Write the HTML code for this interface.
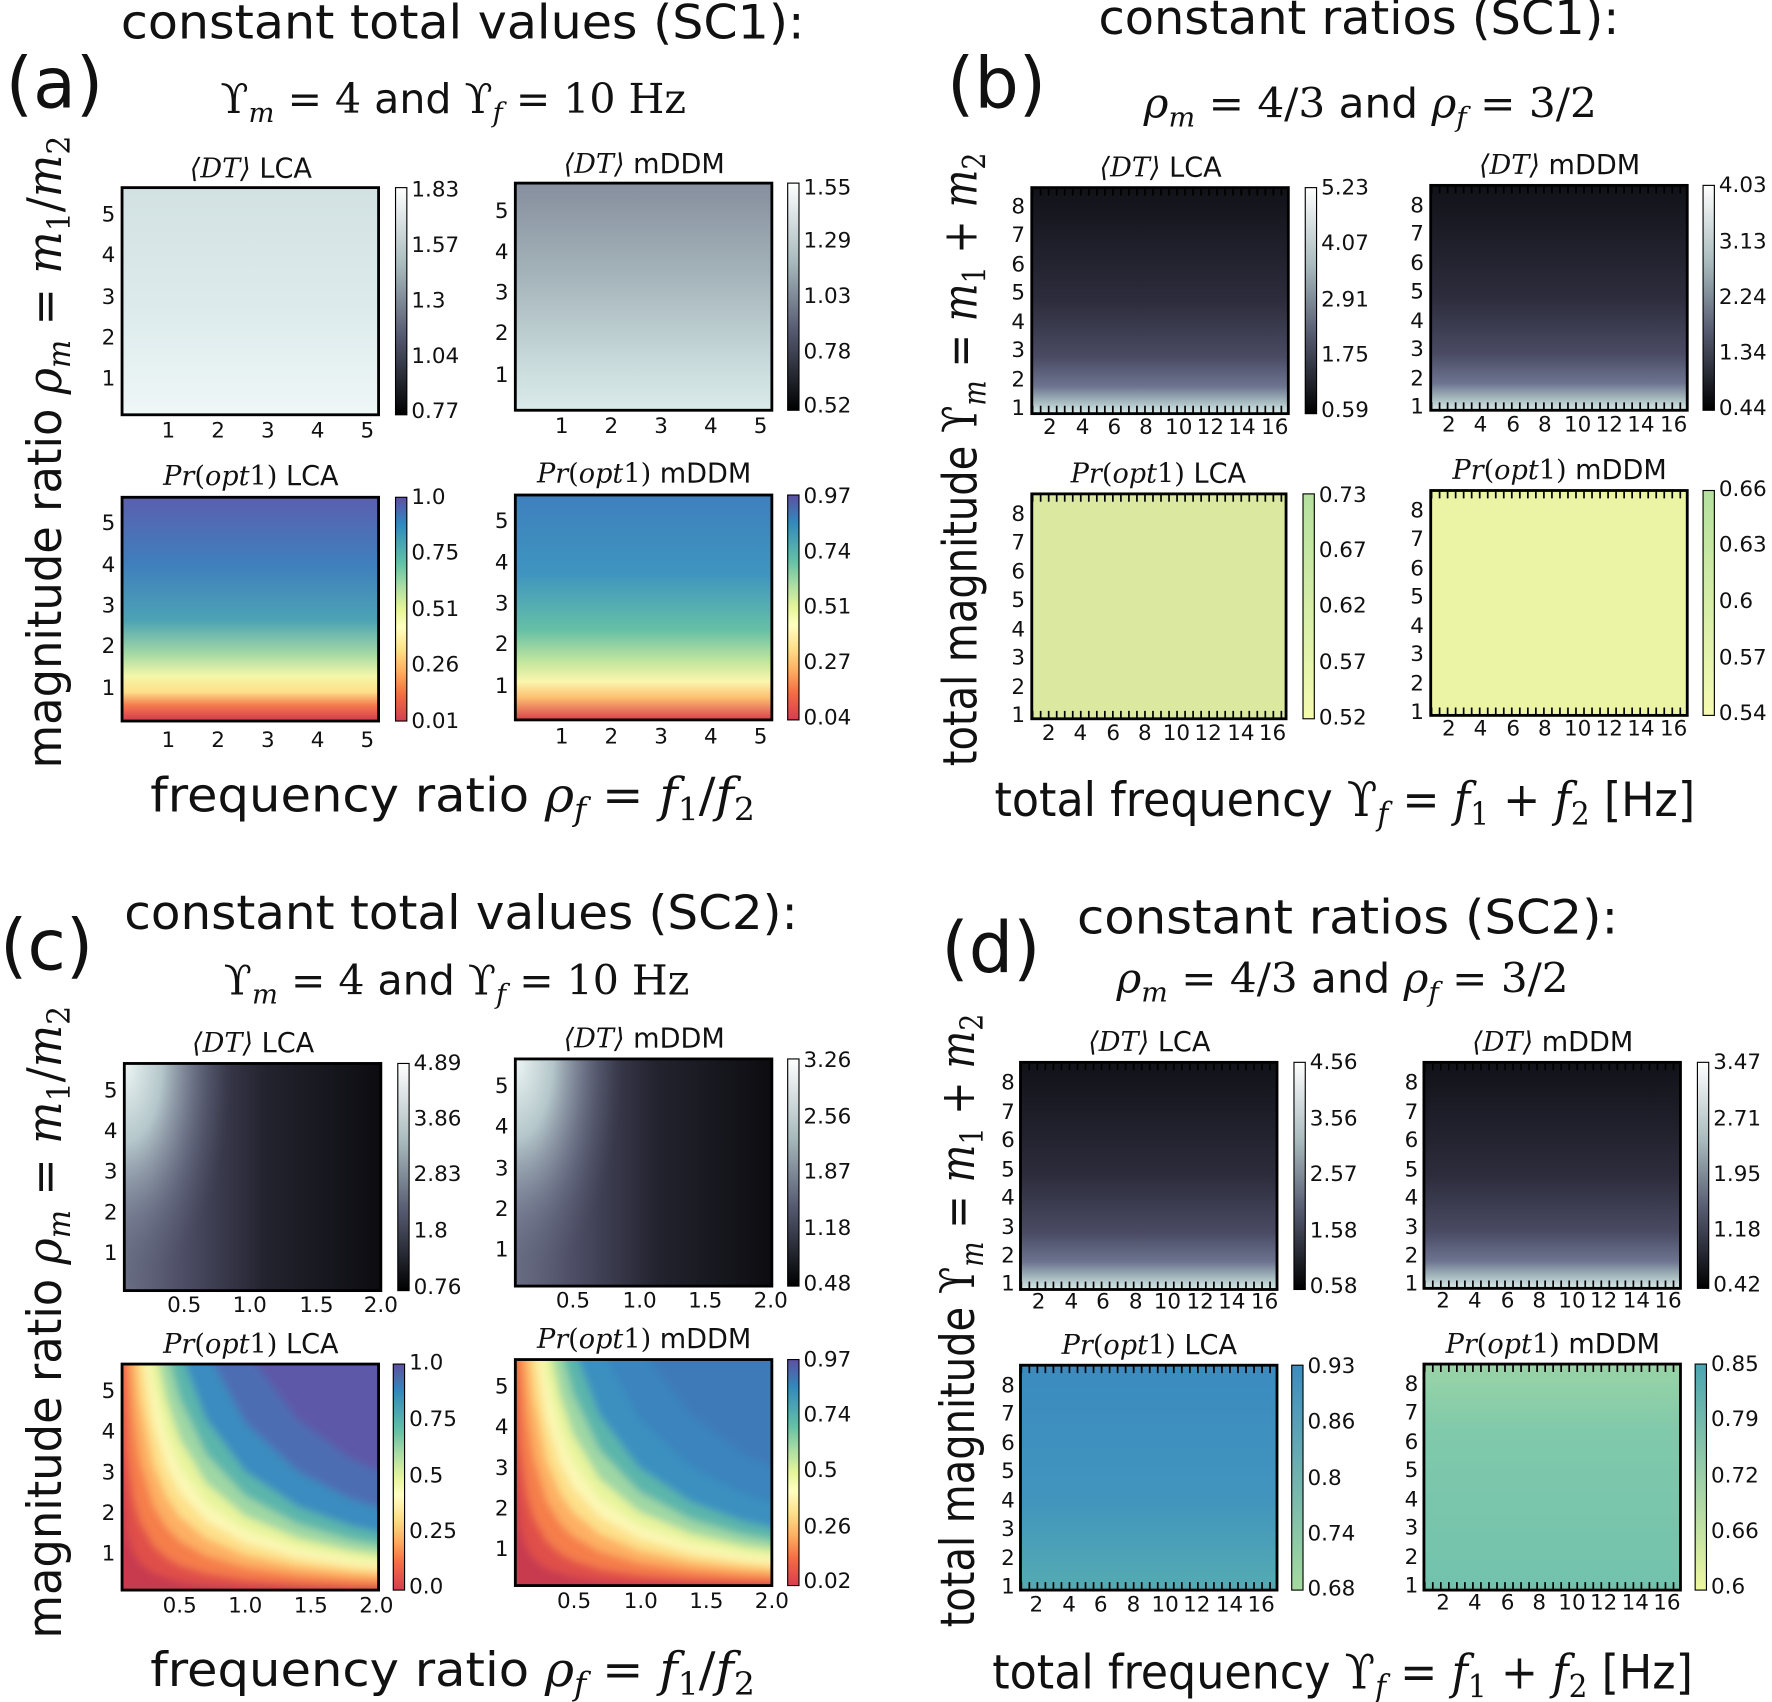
<!DOCTYPE html>
<html><head><meta charset="utf-8"><style>
html,body{margin:0;padding:0;background:#fff;}
svg{display:block}
.t{font-family:"DejaVu Sans","Liberation Sans",sans-serif;fill:#111}
.s{font-family:"DejaVu Serif","Liberation Serif",serif;fill:#111}
.tk{font-family:"DejaVu Sans","Liberation Sans",sans-serif;font-size:19px;fill:#111}
.yl{text-anchor:end}
.xl{text-anchor:middle}
.ttl{font-family:"DejaVu Sans","Liberation Sans",sans-serif;font-size:24px;text-anchor:middle;fill:#111}
.fr{fill:none;stroke:#000;stroke-width:2.5}
.cb{stroke:#000;stroke-width:1}
</style></head><body>
<svg width="1772" height="1702" viewBox="0 0 1568 1506" xmlns="http://www.w3.org/2000/svg">
<defs>
<linearGradient id="bone" x1="0" y1="0" x2="0" y2="1"><stop offset="0" stop-color="#ffffff"/><stop offset="0.35" stop-color="#a7b9bc"/><stop offset="0.65" stop-color="#555a70"/><stop offset="1" stop-color="#000"/></linearGradient>
<linearGradient id="spec" x1="0" y1="0" x2="0" y2="1"><stop offset="0" stop-color="#5e4fa2"/><stop offset="0.12" stop-color="#3288bd"/><stop offset="0.3" stop-color="#66c2a5"/><stop offset="0.4" stop-color="#abdda4"/><stop offset="0.5" stop-color="#e6f598"/><stop offset="0.58" stop-color="#ffffbf"/><stop offset="0.68" stop-color="#fee08b"/><stop offset="0.78" stop-color="#fdae61"/><stop offset="0.88" stop-color="#f46d43"/><stop offset="1" stop-color="#d53e4f"/></linearGradient>
<linearGradient id="specB3" x1="0" y1="0" x2="0" y2="1"><stop offset="0" stop-color="#b5e09f"/><stop offset="1" stop-color="#f5fab0"/></linearGradient>
<linearGradient id="specD3" x1="0" y1="0" x2="0" y2="1"><stop offset="0" stop-color="#3b8cc0"/><stop offset="1" stop-color="#a5da9f"/></linearGradient>
<linearGradient id="specD4" x1="0" y1="0" x2="0" y2="1"><stop offset="0" stop-color="#4aa5b0"/><stop offset="1" stop-color="#eef79e"/></linearGradient>
<linearGradient id="gD3" x1="0" y1="0" x2="0" y2="1"><stop offset="0" stop-color="#3b8bc0"/><stop offset="0.6" stop-color="#4195bd"/><stop offset="1" stop-color="#55abb2"/></linearGradient>
<linearGradient id="gD4" x1="0" y1="0" x2="0" y2="1"><stop offset="0" stop-color="#9ad4a6"/><stop offset="0.3" stop-color="#80c9ab"/><stop offset="1" stop-color="#72c2ad"/></linearGradient>
<linearGradient id="gA1" x1="0" y1="0" x2="0" y2="1"><stop offset="0" stop-color="#d2e1e2"/><stop offset="0.6" stop-color="#dfeced"/><stop offset="1" stop-color="#eff7f7"/></linearGradient>
<linearGradient id="gA2" x1="0" y1="0" x2="0" y2="1"><stop offset="0" stop-color="#868f9e"/><stop offset="0.4" stop-color="#a4b3b9"/><stop offset="0.8" stop-color="#c9dbdc"/><stop offset="1" stop-color="#dbeaea"/></linearGradient>
<linearGradient id="gA3" x1="0" y1="0" x2="0" y2="1"><stop offset="0" stop-color="#5b5fae"/><stop offset="0.3" stop-color="#3f7fbd"/><stop offset="0.55" stop-color="#4ca3b4"/><stop offset="0.7" stop-color="#a4d9a3"/><stop offset="0.8" stop-color="#f4f7a8"/><stop offset="0.87" stop-color="#fde08a"/><stop offset="0.93" stop-color="#f47a4d"/><stop offset="1" stop-color="#d23a4e"/></linearGradient>
<linearGradient id="gA4" x1="0" y1="0" x2="0" y2="1"><stop offset="0" stop-color="#3f7fbd"/><stop offset="0.35" stop-color="#3e95bf"/><stop offset="0.6" stop-color="#66c0a6"/><stop offset="0.75" stop-color="#c8e89e"/><stop offset="0.83" stop-color="#fbf6ae"/><stop offset="0.9" stop-color="#fdc070"/><stop offset="1" stop-color="#d9404c"/></linearGradient>
<linearGradient id="gB1" x1="0" y1="0" x2="0" y2="1"><stop offset="0" stop-color="#111118"/><stop offset="0.5" stop-color="#2c2c3c"/><stop offset="0.75" stop-color="#4a4b63"/><stop offset="0.88" stop-color="#6d7490"/><stop offset="0.95" stop-color="#a8bcc0"/><stop offset="1" stop-color="#d8eaea"/></linearGradient>
<linearGradient id="gH" x1="0" y1="0" x2="1" y2="0"><stop offset="0" stop-color="#6a6e84"/><stop offset="0.25" stop-color="#4a4b62"/><stop offset="0.55" stop-color="#23232f"/><stop offset="1" stop-color="#0c0c10"/></linearGradient>
<radialGradient id="gL" cx="0" cy="0" r="1" gradientTransform="scale(0.42,1.0)"><stop offset="0" stop-color="#eef6f4"/><stop offset="0.35" stop-color="#b9cccf" stop-opacity="0.95"/><stop offset="0.7" stop-color="#7c8499" stop-opacity="0.5"/><stop offset="1" stop-color="#555a70" stop-opacity="0"/></radialGradient>
<clipPath id="cC3"><rect x="108" y="1207" width="227" height="200"/></clipPath>
<clipPath id="cC4"><rect x="456" y="1203" width="227" height="200"/></clipPath>
<filter id="bl" filterUnits="userSpaceOnUse" x="0" y="1100" width="800" height="400"><feGaussianBlur stdDeviation="3.5"/></filter>
<g id="inner">
<path fill="#5bb5ab" d="M-0.2,-0.3 L-0.2,7 L0.5,7 L0.5,6 L0.7,4.29 L1,3 L1.4,2.14 L1.8,1.67 L2.3,1.30 L2.3,-0.3 Z"/>
<path fill="#9fd7a4" d="M-0.2,-0.3 L-0.2,7 L0.4,7 L0.4,6 L0.5,4.8 L0.7,3.43 L1,2.4 L1.4,1.71 L1.8,1.33 L2.3,1.04 L2.3,-0.3 Z"/>
<path fill="#e8f49c" d="M-0.2,-0.3 L-0.2,7 L0.317,7 L0.317,6 L0.4,4.75 L0.5,3.8 L0.7,2.71 L1,1.9 L1.4,1.36 L1.8,1.06 L2.3,0.83 L2.3,-0.3 Z"/>
<path fill="#fbf8b5" d="M-0.2,-0.3 L-0.2,7 L0.258,7 L0.258,6 L0.3,5.17 L0.4,3.88 L0.5,3.1 L0.7,2.21 L1,1.55 L1.4,1.11 L1.8,0.86 L2.3,0.67 L2.3,-0.3 Z"/>
<path fill="#fde08a" d="M-0.2,-0.3 L-0.2,7 L0.208,7 L0.208,6 L0.3,4.17 L0.4,3.13 L0.5,2.5 L0.7,1.79 L1,1.25 L1.4,0.89 L1.8,0.69 L2.3,0.54 L2.3,-0.3 Z"/>
<path fill="#fdb063" d="M-0.2,-0.3 L-0.2,7 L0.158,7 L0.158,6 L0.2,4.75 L0.3,3.17 L0.4,2.38 L0.5,1.9 L0.7,1.36 L1,0.95 L1.4,0.68 L1.8,0.53 L2.3,0.41 L2.3,-0.3 Z"/>
<path fill="#f57e4b" d="M-0.2,-0.3 L-0.2,7 L0.108,7 L0.108,6 L0.15,4.33 L0.2,3.25 L0.3,2.17 L0.4,1.63 L0.5,1.3 L0.7,0.93 L1,0.65 L1.4,0.46 L1.8,0.36 L2.3,0.28 L2.3,-0.3 Z"/>
<path fill="#e0504a" d="M-0.2,-0.3 L-0.2,7 L0.058,7 L0.058,6 L0.1,3.5 L0.15,2.33 L0.2,1.75 L0.3,1.17 L0.4,0.88 L0.5,0.7 L0.7,0.5 L1,0.35 L1.4,0.25 L1.8,0.19 L2.3,0.15 L2.3,-0.3 Z"/>
<path fill="#c83a50" d="M-0.2,-0.3 L-0.2,7 L0.025,7 L0.025,6 L0.05,3 L0.1,1.5 L0.15,1 L0.2,0.75 L0.3,0.5 L0.5,0.3 L0.7,0.21 L1,0.15 L1.4,0.11 L2.3,0.065 L2.3,-0.3 Z"/>
</g>
</defs>

<!-- Headers -->
<text class="t" x="107" y="34" font-size="42" textLength="605" lengthAdjust="spacingAndGlyphs">constant total values (SC1):</text>
<text class="t" x="5" y="95" font-size="62">(a)</text>
<text x="195" y="100" font-size="36" textLength="412" lengthAdjust="spacingAndGlyphs"><tspan class="s">ϒ</tspan><tspan class="s" font-style="italic" font-size="24" dy="8">m</tspan><tspan class="s" dy="-8"> = 4 </tspan><tspan class="t">and </tspan><tspan class="s">ϒ</tspan><tspan class="s" font-style="italic" font-size="24" dy="8">f</tspan><tspan class="s" dy="-8"> = 10 Hz</tspan></text>

<text class="t" x="972" y="30" font-size="42" textLength="461" lengthAdjust="spacingAndGlyphs">constant ratios (SC1):</text>
<text class="t" x="838" y="95" font-size="62">(b)</text>
<text x="1012" y="104" font-size="36" textLength="401" lengthAdjust="spacingAndGlyphs"><tspan class="s" font-style="italic">ρ</tspan><tspan class="s" font-style="italic" font-size="24" dy="8">m</tspan><tspan class="s" dy="-8"> = 4/3 </tspan><tspan class="t">and </tspan><tspan class="s" font-style="italic">ρ</tspan><tspan class="s" font-style="italic" font-size="24" dy="8">f</tspan><tspan class="s" dy="-8"> = 3/2</tspan></text>

<text class="t" x="110" y="822" font-size="42" textLength="596" lengthAdjust="spacingAndGlyphs">constant total values (SC2):</text>
<text class="t" x="0" y="858" font-size="62">(c)</text>
<text x="198" y="880" font-size="36" textLength="412" lengthAdjust="spacingAndGlyphs"><tspan class="s">ϒ</tspan><tspan class="s" font-style="italic" font-size="24" dy="8">m</tspan><tspan class="s" dy="-8"> = 4 </tspan><tspan class="t">and </tspan><tspan class="s">ϒ</tspan><tspan class="s" font-style="italic" font-size="24" dy="8">f</tspan><tspan class="s" dy="-8"> = 10 Hz</tspan></text>

<text class="t" x="953" y="826" font-size="42" textLength="479" lengthAdjust="spacingAndGlyphs">constant ratios (SC2):</text>
<text class="t" x="833" y="860" font-size="62">(d)</text>
<text x="988" y="878" font-size="36" textLength="400" lengthAdjust="spacingAndGlyphs"><tspan class="s" font-style="italic">ρ</tspan><tspan class="s" font-style="italic" font-size="24" dy="8">m</tspan><tspan class="s" dy="-8"> = 4/3 </tspan><tspan class="t">and </tspan><tspan class="s" font-style="italic">ρ</tspan><tspan class="s" font-style="italic" font-size="24" dy="8">f</tspan><tspan class="s" dy="-8"> = 3/2</tspan></text>

<!-- Axis labels -->
<text transform="translate(54,680) rotate(-90)" font-size="42" textLength="560" lengthAdjust="spacingAndGlyphs"><tspan class="t">magnitude ratio </tspan><tspan class="s" font-style="italic">ρ</tspan><tspan class="s" font-style="italic" font-size="28" dy="8">m</tspan><tspan class="s" dy="-8"> = </tspan><tspan class="s" font-style="italic">m</tspan><tspan class="s" font-size="28" dy="8">1</tspan><tspan class="s" dy="-8">/</tspan><tspan class="s" font-style="italic">m</tspan><tspan class="s" font-size="28" dy="8">2</tspan></text>
<text x="133" y="718" font-size="42" textLength="535" lengthAdjust="spacingAndGlyphs"><tspan class="t">frequency ratio </tspan><tspan class="s" font-style="italic">ρ</tspan><tspan class="s" font-style="italic" font-size="28" dy="8">f</tspan><tspan class="s" dy="-8"> = </tspan><tspan class="s" font-style="italic">f</tspan><tspan class="s" font-size="28" dy="8">1</tspan><tspan class="s" dy="-8">/</tspan><tspan class="s" font-style="italic">f</tspan><tspan class="s" font-size="28" dy="8">2</tspan></text>
<text transform="translate(864,678) rotate(-90)" font-size="42" textLength="543" lengthAdjust="spacingAndGlyphs"><tspan class="t">total magnitude </tspan><tspan class="s">ϒ</tspan><tspan class="s" font-style="italic" font-size="28" dy="8">m</tspan><tspan class="s" dy="-8"> = </tspan><tspan class="s" font-style="italic">m</tspan><tspan class="s" font-size="28" dy="8">1</tspan><tspan class="s" dy="-8"> + </tspan><tspan class="s" font-style="italic">m</tspan><tspan class="s" font-size="28" dy="8">2</tspan></text>
<text x="880" y="722" font-size="42" textLength="620" lengthAdjust="spacingAndGlyphs"><tspan class="t">total frequency </tspan><tspan class="s">ϒ</tspan><tspan class="s" font-style="italic" font-size="28" dy="8">f</tspan><tspan class="s" dy="-8"> = </tspan><tspan class="s" font-style="italic">f</tspan><tspan class="s" font-size="28" dy="8">1</tspan><tspan class="s" dy="-8"> + </tspan><tspan class="s" font-style="italic">f</tspan><tspan class="s" font-size="28" dy="8">2</tspan><tspan class="t" dy="-8">  [Hz]</tspan></text>

<text transform="translate(54,1450) rotate(-90)" font-size="42" textLength="560" lengthAdjust="spacingAndGlyphs"><tspan class="t">magnitude ratio </tspan><tspan class="s" font-style="italic">ρ</tspan><tspan class="s" font-style="italic" font-size="28" dy="8">m</tspan><tspan class="s" dy="-8"> = </tspan><tspan class="s" font-style="italic">m</tspan><tspan class="s" font-size="28" dy="8">1</tspan><tspan class="s" dy="-8">/</tspan><tspan class="s" font-style="italic">m</tspan><tspan class="s" font-size="28" dy="8">2</tspan></text>
<text x="133" y="1492" font-size="42" textLength="535" lengthAdjust="spacingAndGlyphs"><tspan class="t">frequency ratio </tspan><tspan class="s" font-style="italic">ρ</tspan><tspan class="s" font-style="italic" font-size="28" dy="8">f</tspan><tspan class="s" dy="-8"> = </tspan><tspan class="s" font-style="italic">f</tspan><tspan class="s" font-size="28" dy="8">1</tspan><tspan class="s" dy="-8">/</tspan><tspan class="s" font-style="italic">f</tspan><tspan class="s" font-size="28" dy="8">2</tspan></text>
<text transform="translate(862,1440) rotate(-90)" font-size="42" textLength="543" lengthAdjust="spacingAndGlyphs"><tspan class="t">total magnitude </tspan><tspan class="s">ϒ</tspan><tspan class="s" font-style="italic" font-size="28" dy="8">m</tspan><tspan class="s" dy="-8"> = </tspan><tspan class="s" font-style="italic">m</tspan><tspan class="s" font-size="28" dy="8">1</tspan><tspan class="s" dy="-8"> + </tspan><tspan class="s" font-style="italic">m</tspan><tspan class="s" font-size="28" dy="8">2</tspan></text>
<text x="878" y="1494" font-size="42" textLength="620" lengthAdjust="spacingAndGlyphs"><tspan class="t">total frequency </tspan><tspan class="s">ϒ</tspan><tspan class="s" font-style="italic" font-size="28" dy="8">f</tspan><tspan class="s" dy="-8"> = </tspan><tspan class="s" font-style="italic">f</tspan><tspan class="s" font-size="28" dy="8">1</tspan><tspan class="s" dy="-8"> + </tspan><tspan class="s" font-style="italic">f</tspan><tspan class="s" font-size="28" dy="8">2</tspan><tspan class="t" dy="-8">  [Hz]</tspan></text>

<!-- ===== A1 ===== -->
<text class="ttl" x="222" y="157"><tspan class="s" font-style="italic">⟨DT⟩</tspan> LCA</text>
<rect x="108" y="166" width="227" height="201" fill="url(#gA1)"/><rect class="fr" x="108" y="166" width="227" height="201"/>
<g class="tk yl"><text x="102" y="196">5</text><text x="102" y="232">4</text><text x="102" y="269">3</text><text x="102" y="305">2</text><text x="102" y="341">1</text></g>
<g class="tk xl"><text x="149" y="387">1</text><text x="193" y="387">2</text><text x="237" y="387">3</text><text x="281" y="387">4</text><text x="325" y="387">5</text></g>
<rect class="cb" x="350" y="166" width="10" height="201" fill="url(#bone)"/>
<g class="tk"><text x="364" y="174">1.83</text><text x="364" y="223">1.57</text><text x="364" y="272">1.3</text><text x="364" y="321">1.04</text><text x="364" y="370">0.77</text></g>

<!-- A2 -->
<text class="ttl" x="570" y="153"><tspan class="s" font-style="italic">⟨DT⟩</tspan> mDDM</text>
<rect x="456" y="162" width="227" height="201" fill="url(#gA2)"/><rect class="fr" x="456" y="162" width="227" height="201"/>
<g class="tk yl"><text x="450" y="193">5</text><text x="450" y="229">4</text><text x="450" y="265">3</text><text x="450" y="301">2</text><text x="450" y="338">1</text></g>
<g class="tk xl"><text x="497" y="383">1</text><text x="541" y="383">2</text><text x="585" y="383">3</text><text x="629" y="383">4</text><text x="673" y="383">5</text></g>
<rect class="cb" x="697" y="162" width="10" height="201" fill="url(#bone)"/>
<g class="tk"><text x="711" y="172">1.55</text><text x="711" y="219">1.29</text><text x="711" y="268">1.03</text><text x="711" y="317">0.78</text><text x="711" y="365">0.52</text></g>

<!-- A3 -->
<text class="ttl" x="222" y="429"><tspan class="s" font-style="italic">Pr</tspan><tspan class="s">(</tspan><tspan class="s" font-style="italic">opt</tspan><tspan class="s">1)</tspan> LCA</text>
<rect x="108" y="440" width="227" height="198" fill="url(#gA3)"/><rect class="fr" x="108" y="440" width="227" height="198"/>
<g class="tk yl"><text x="102" y="469">5</text><text x="102" y="506">4</text><text x="102" y="542">3</text><text x="102" y="578">2</text><text x="102" y="615">1</text></g>
<g class="tk xl"><text x="149" y="661">1</text><text x="193" y="661">2</text><text x="237" y="661">3</text><text x="281" y="661">4</text><text x="325" y="661">5</text></g>
<rect class="cb" x="350" y="440" width="10" height="198" fill="url(#spec)"/>
<g class="tk"><text x="364" y="446">1.0</text><text x="364" y="495">0.75</text><text x="364" y="545">0.51</text><text x="364" y="594">0.26</text><text x="364" y="644">0.01</text></g>

<!-- A4 -->
<text class="ttl" x="570" y="427"><tspan class="s" font-style="italic">Pr</tspan><tspan class="s">(</tspan><tspan class="s" font-style="italic">opt</tspan><tspan class="s">1)</tspan> mDDM</text>
<rect x="456" y="438" width="227" height="199" fill="url(#gA4)"/><rect class="fr" x="456" y="438" width="227" height="199"/>
<g class="tk yl"><text x="450" y="467">5</text><text x="450" y="504">4</text><text x="450" y="540">3</text><text x="450" y="576">2</text><text x="450" y="613">1</text></g>
<g class="tk xl"><text x="497" y="658">1</text><text x="541" y="658">2</text><text x="585" y="658">3</text><text x="629" y="658">4</text><text x="673" y="658">5</text></g>
<rect class="cb" x="697" y="438" width="10" height="199" fill="url(#spec)"/>
<g class="tk"><text x="711" y="445">0.97</text><text x="711" y="494">0.74</text><text x="711" y="543">0.51</text><text x="711" y="592">0.27</text><text x="711" y="641">0.04</text></g>

<!-- ===== B1 ===== -->
<text class="ttl" x="1027" y="156"><tspan class="s" font-style="italic">⟨DT⟩</tspan> LCA</text>
<rect x="913" y="166" width="227" height="200" fill="url(#gB1)"/><rect class="fr" x="913" y="166" width="227" height="200"/>
<line x1="913" y1="362" x2="1140" y2="362" stroke="#000" stroke-width="6" stroke-dasharray="1.5 5.6"/>
<line x1="913" y1="170" x2="1140" y2="170" stroke="#000" stroke-width="6" stroke-dasharray="1.5 5.6"/>
<g class="tk yl" font-size="17"><text x="907" y="189">8</text><text x="907" y="214">7</text><text x="907" y="240">6</text><text x="907" y="265">5</text><text x="907" y="291">4</text><text x="907" y="316">3</text><text x="907" y="342">2</text><text x="907" y="367">1</text></g>
<g class="tk xl" font-size="17"><text x="929" y="384">2</text><text x="958" y="384">4</text><text x="986" y="384">6</text><text x="1014" y="384">8</text><text x="1043" y="384">10</text><text x="1071" y="384">12</text><text x="1099" y="384">14</text><text x="1128" y="384">16</text></g>
<rect class="cb" x="1155" y="166" width="10" height="200" fill="url(#bone)"/>
<g class="tk"><text x="1169" y="172">5.23</text><text x="1169" y="221">4.07</text><text x="1169" y="271">2.91</text><text x="1169" y="320">1.75</text><text x="1169" y="369">0.59</text></g>

<!-- B2 -->
<text class="ttl" x="1380" y="154"><tspan class="s" font-style="italic">⟨DT⟩</tspan> mDDM</text>
<rect x="1266" y="164" width="227" height="199" fill="url(#gB1)"/><rect class="fr" x="1266" y="164" width="227" height="199"/>
<line x1="1266" y1="359" x2="1493" y2="359" stroke="#000" stroke-width="6" stroke-dasharray="1.5 5.6"/>
<line x1="1266" y1="168" x2="1493" y2="168" stroke="#000" stroke-width="6" stroke-dasharray="1.5 5.6"/>
<g class="tk yl" font-size="17"><text x="1260" y="188">8</text><text x="1260" y="213">7</text><text x="1260" y="239">6</text><text x="1260" y="264">5</text><text x="1260" y="290">4</text><text x="1260" y="315">3</text><text x="1260" y="341">2</text><text x="1260" y="366">1</text></g>
<g class="tk xl" font-size="17"><text x="1282" y="382">2</text><text x="1310" y="382">4</text><text x="1339" y="382">6</text><text x="1367" y="382">8</text><text x="1396" y="382">10</text><text x="1424" y="382">12</text><text x="1452" y="382">14</text><text x="1481" y="382">16</text></g>
<rect class="cb" x="1507" y="164" width="10" height="199" fill="url(#bone)"/>
<g class="tk"><text x="1521" y="170">4.03</text><text x="1521" y="220">3.13</text><text x="1521" y="269">2.24</text><text x="1521" y="318">1.34</text><text x="1521" y="367">0.44</text></g>

<!-- B3 -->
<text class="ttl" x="1025" y="427"><tspan class="s" font-style="italic">Pr</tspan><tspan class="s">(</tspan><tspan class="s" font-style="italic">opt</tspan><tspan class="s">1)</tspan> LCA</text>
<rect x="913" y="437" width="225" height="199" fill="#dbe9a0"/><rect class="fr" x="913" y="437" width="225" height="199"/>
<line x1="913" y1="632" x2="1138" y2="632" stroke="#000" stroke-width="6" stroke-dasharray="1.5 5.6"/>
<line x1="913" y1="441" x2="1138" y2="441" stroke="#000" stroke-width="6" stroke-dasharray="1.5 5.6"/>
<g class="tk yl" font-size="17"><text x="907" y="461">8</text><text x="907" y="486">7</text><text x="907" y="512">6</text><text x="907" y="537">5</text><text x="907" y="563">4</text><text x="907" y="588">3</text><text x="907" y="614">2</text><text x="907" y="639">1</text></g>
<g class="tk xl" font-size="17"><text x="928" y="655">2</text><text x="956" y="655">4</text><text x="985" y="655">6</text><text x="1013" y="655">8</text><text x="1041" y="655">10</text><text x="1069" y="655">12</text><text x="1098" y="655">14</text><text x="1126" y="655">16</text></g>
<rect class="cb" x="1153" y="437" width="10" height="199" fill="url(#specB3)"/>
<g class="tk"><text x="1167" y="444">0.73</text><text x="1167" y="493">0.67</text><text x="1167" y="542">0.62</text><text x="1167" y="592">0.57</text><text x="1167" y="641">0.52</text></g>

<!-- B4 -->
<text class="ttl" x="1380" y="424"><tspan class="s" font-style="italic">Pr</tspan><tspan class="s">(</tspan><tspan class="s" font-style="italic">opt</tspan><tspan class="s">1)</tspan> mDDM</text>
<rect x="1266" y="434" width="227" height="199" fill="#ebf3a4"/><rect class="fr" x="1266" y="434" width="227" height="199"/>
<line x1="1266" y1="629" x2="1493" y2="629" stroke="#000" stroke-width="6" stroke-dasharray="1.5 5.6"/>
<line x1="1266" y1="438" x2="1493" y2="438" stroke="#000" stroke-width="6" stroke-dasharray="1.5 5.6"/>
<g class="tk yl" font-size="17"><text x="1260" y="458">8</text><text x="1260" y="483">7</text><text x="1260" y="509">6</text><text x="1260" y="534">5</text><text x="1260" y="560">4</text><text x="1260" y="585">3</text><text x="1260" y="611">2</text><text x="1260" y="636">1</text></g>
<g class="tk xl" font-size="17"><text x="1282" y="651">2</text><text x="1310" y="651">4</text><text x="1339" y="651">6</text><text x="1367" y="651">8</text><text x="1396" y="651">10</text><text x="1424" y="651">12</text><text x="1452" y="651">14</text><text x="1481" y="651">16</text></g>
<rect class="cb" x="1507" y="434" width="10" height="199" fill="url(#specB3)"/>
<g class="tk"><text x="1521" y="439">0.66</text><text x="1521" y="488">0.63</text><text x="1521" y="538">0.6</text><text x="1521" y="588">0.57</text><text x="1521" y="637">0.54</text></g>

<!-- ===== C1 ===== -->
<text class="ttl" x="224" y="931"><tspan class="s" font-style="italic">⟨DT⟩</tspan> LCA</text>
<rect x="110" y="941" width="227" height="201" fill="url(#gH)"/><rect x="110" y="941" width="227" height="201" fill="url(#gL)"/><rect class="fr" x="110" y="941" width="227" height="201"/>
<g class="tk yl"><text x="104" y="971">5</text><text x="104" y="1007">4</text><text x="104" y="1043">3</text><text x="104" y="1079">2</text><text x="104" y="1115">1</text></g>
<g class="tk xl"><text x="163" y="1161">0.5</text><text x="221" y="1161">1.0</text><text x="280" y="1161">1.5</text><text x="337" y="1161">2.0</text></g>
<rect class="cb" x="352" y="941" width="10" height="201" fill="url(#bone)"/>
<g class="tk"><text x="366" y="947">4.89</text><text x="366" y="996">3.86</text><text x="366" y="1045">2.83</text><text x="366" y="1095">1.8</text><text x="366" y="1145">0.76</text></g>

<!-- C2 -->
<text class="ttl" x="570" y="927"><tspan class="s" font-style="italic">⟨DT⟩</tspan> mDDM</text>
<rect x="456" y="937" width="227" height="201" fill="url(#gH)"/><rect x="456" y="937" width="227" height="201" fill="url(#gL)"/><rect class="fr" x="456" y="937" width="227" height="201"/>
<g class="tk yl"><text x="450" y="967">5</text><text x="450" y="1003">4</text><text x="450" y="1040">3</text><text x="450" y="1076">2</text><text x="450" y="1112">1</text></g>
<g class="tk xl"><text x="507" y="1157">0.5</text><text x="566" y="1157">1.0</text><text x="624" y="1157">1.5</text><text x="682" y="1157">2.0</text></g>
<rect class="cb" x="697" y="937" width="10" height="201" fill="url(#bone)"/>
<g class="tk"><text x="711" y="944">3.26</text><text x="711" y="994">2.56</text><text x="711" y="1043">1.87</text><text x="711" y="1093">1.18</text><text x="711" y="1142">0.48</text></g>

<!-- C3 -->
<text class="ttl" x="222" y="1197"><tspan class="s" font-style="italic">Pr</tspan><tspan class="s">(</tspan><tspan class="s" font-style="italic">opt</tspan><tspan class="s">1)</tspan> LCA</text>
<g clip-path="url(#cC3)">
<rect x="100" y="1200" width="240" height="215" fill="#5e58a8"/>
<g filter="url(#bl)"><g transform="matrix(116,0,0,-36,101,1410)">
<path fill="#4d6db3" d="M-0.2,-0.3 L-0.2,7 L1,7 L1,6 L1.4,4.29 L1.8,3.33 L2.3,2.61 L2.3,-0.3 Z"/>
<path fill="#3b8cc0" d="M-0.2,-0.3 L-0.2,7 L0.7,7 L0.7,6 L1,4.2 L1.4,3 L1.8,2.33 L2.3,1.83 L2.3,-0.3 Z"/>
<use href="#inner"/>
</g></g></g>
<rect class="fr" x="108" y="1207" width="227" height="200"/>
<g class="tk yl"><text x="102" y="1237">5</text><text x="102" y="1273">4</text><text x="102" y="1309">3</text><text x="102" y="1345">2</text><text x="102" y="1381">1</text></g>
<g class="tk xl"><text x="159" y="1427">0.5</text><text x="217" y="1427">1.0</text><text x="275" y="1427">1.5</text><text x="333" y="1427">2.0</text></g>
<rect class="cb" x="348" y="1207" width="10" height="200" fill="url(#spec)"/>
<g class="tk"><text x="362" y="1212">1.0</text><text x="362" y="1262">0.75</text><text x="362" y="1312">0.5</text><text x="362" y="1361">0.25</text><text x="362" y="1410">0.0</text></g>

<!-- C4 -->
<text class="ttl" x="570" y="1193"><tspan class="s" font-style="italic">Pr</tspan><tspan class="s">(</tspan><tspan class="s" font-style="italic">opt</tspan><tspan class="s">1)</tspan> mDDM</text>
<g clip-path="url(#cC4)">
<rect x="450" y="1195" width="240" height="215" fill="#3f7ab8"/>
<g filter="url(#bl)"><g transform="matrix(116,0,0,-36,449,1406)">
<path fill="#3a84bd" d="M-0.2,-0.3 L-0.2,7 L1,7 L1,6 L1.4,4.29 L1.8,3.33 L2.3,2.61 L2.3,-0.3 Z"/>
<path fill="#3b90c0" d="M-0.2,-0.3 L-0.2,7 L0.7,7 L0.7,6 L1,4.2 L1.4,3 L1.8,2.33 L2.3,1.83 L2.3,-0.3 Z"/>
<use href="#inner"/>
</g></g></g>
<rect class="fr" x="456" y="1203" width="227" height="200"/>
<g class="tk yl"><text x="450" y="1233">5</text><text x="450" y="1269">4</text><text x="450" y="1305">3</text><text x="450" y="1341">2</text><text x="450" y="1377">1</text></g>
<g class="tk xl"><text x="508" y="1423">0.5</text><text x="567" y="1423">1.0</text><text x="625" y="1423">1.5</text><text x="683" y="1423">2.0</text></g>
<rect class="cb" x="697" y="1203" width="10" height="200" fill="url(#spec)"/>
<g class="tk"><text x="711" y="1209">0.97</text><text x="711" y="1258">0.74</text><text x="711" y="1307">0.5</text><text x="711" y="1357">0.26</text><text x="711" y="1405">0.02</text></g>

<!-- ===== D1 ===== -->
<text class="ttl" x="1017" y="930"><tspan class="s" font-style="italic">⟨DT⟩</tspan> LCA</text>
<rect x="903" y="940" width="227" height="201" fill="url(#gB1)"/><rect class="fr" x="903" y="940" width="227" height="201"/>
<line x1="903" y1="1137" x2="1130" y2="1137" stroke="#000" stroke-width="6" stroke-dasharray="1.5 5.6"/>
<line x1="903" y1="944" x2="1130" y2="944" stroke="#000" stroke-width="6" stroke-dasharray="1.5 5.6"/>
<g class="tk yl" font-size="17"><text x="898" y="964">8</text><text x="898" y="990">7</text><text x="898" y="1015">6</text><text x="898" y="1041">5</text><text x="898" y="1066">4</text><text x="898" y="1092">3</text><text x="898" y="1117">2</text><text x="898" y="1142">1</text></g>
<g class="tk xl" font-size="17"><text x="919" y="1158">2</text><text x="948" y="1158">4</text><text x="976" y="1158">6</text><text x="1005" y="1158">8</text><text x="1033" y="1158">10</text><text x="1062" y="1158">12</text><text x="1090" y="1158">14</text><text x="1119" y="1158">16</text></g>
<rect class="cb" x="1145" y="940" width="10" height="201" fill="url(#bone)"/>
<g class="tk"><text x="1159" y="946">4.56</text><text x="1159" y="996">3.56</text><text x="1159" y="1045">2.57</text><text x="1159" y="1095">1.58</text><text x="1159" y="1144">0.58</text></g>

<!-- D2 -->
<text class="ttl" x="1374" y="930"><tspan class="s" font-style="italic">⟨DT⟩</tspan> mDDM</text>
<rect x="1260" y="940" width="227" height="200" fill="url(#gB1)"/><rect class="fr" x="1260" y="940" width="227" height="200"/>
<line x1="1260" y1="1136" x2="1487" y2="1136" stroke="#000" stroke-width="6" stroke-dasharray="1.5 5.6"/>
<line x1="1260" y1="944" x2="1487" y2="944" stroke="#000" stroke-width="6" stroke-dasharray="1.5 5.6"/>
<g class="tk yl" font-size="17"><text x="1255" y="964">8</text><text x="1255" y="990">7</text><text x="1255" y="1015">6</text><text x="1255" y="1041">5</text><text x="1255" y="1066">4</text><text x="1255" y="1092">3</text><text x="1255" y="1117">2</text><text x="1255" y="1142">1</text></g>
<g class="tk xl" font-size="17"><text x="1277" y="1157">2</text><text x="1305" y="1157">4</text><text x="1334" y="1157">6</text><text x="1362" y="1157">8</text><text x="1391" y="1157">10</text><text x="1419" y="1157">12</text><text x="1448" y="1157">14</text><text x="1476" y="1157">16</text></g>
<rect class="cb" x="1502" y="940" width="10" height="200" fill="url(#bone)"/>
<g class="tk"><text x="1516" y="946">3.47</text><text x="1516" y="996">2.71</text><text x="1516" y="1045">1.95</text><text x="1516" y="1094">1.18</text><text x="1516" y="1143">0.42</text></g>

<!-- D3 -->
<text class="ttl" x="1017" y="1198"><tspan class="s" font-style="italic">Pr</tspan><tspan class="s">(</tspan><tspan class="s" font-style="italic">opt</tspan><tspan class="s">1)</tspan> LCA</text>
<rect x="903" y="1208" width="227" height="199" fill="url(#gD3)"/>
<rect class="fr" x="903" y="1208" width="227" height="199"/>
<line x1="903" y1="1403" x2="1130" y2="1403" stroke="#000" stroke-width="6" stroke-dasharray="1.5 5.6"/>
<line x1="903" y1="1212" x2="1130" y2="1212" stroke="#000" stroke-width="6" stroke-dasharray="1.5 5.6"/>
<g class="tk yl" font-size="17"><text x="898" y="1232">8</text><text x="898" y="1257">7</text><text x="898" y="1283">6</text><text x="898" y="1308">5</text><text x="898" y="1334">4</text><text x="898" y="1359">3</text><text x="898" y="1385">2</text><text x="898" y="1410">1</text></g>
<g class="tk xl" font-size="17"><text x="917" y="1426">2</text><text x="946" y="1426">4</text><text x="974" y="1426">6</text><text x="1003" y="1426">8</text><text x="1031" y="1426">10</text><text x="1059" y="1426">12</text><text x="1088" y="1426">14</text><text x="1116" y="1426">16</text></g>
<rect class="cb" x="1143" y="1208" width="10" height="199" fill="url(#specD3)"/>
<g class="tk"><text x="1157" y="1215">0.93</text><text x="1157" y="1264">0.86</text><text x="1157" y="1314">0.8</text><text x="1157" y="1363">0.74</text><text x="1157" y="1412">0.68</text></g>

<!-- D4 -->
<text class="ttl" x="1374" y="1197"><tspan class="s" font-style="italic">Pr</tspan><tspan class="s">(</tspan><tspan class="s" font-style="italic">opt</tspan><tspan class="s">1)</tspan> mDDM</text>
<rect x="1260" y="1207" width="227" height="200" fill="url(#gD4)"/>
<rect class="fr" x="1260" y="1207" width="227" height="200"/>
<line x1="1260" y1="1403" x2="1487" y2="1403" stroke="#000" stroke-width="6" stroke-dasharray="1.5 5.6"/>
<line x1="1260" y1="1211" x2="1487" y2="1211" stroke="#000" stroke-width="6" stroke-dasharray="1.5 5.6"/>
<g class="tk yl" font-size="17"><text x="1255" y="1231">8</text><text x="1255" y="1256">7</text><text x="1255" y="1282">6</text><text x="1255" y="1307">5</text><text x="1255" y="1333">4</text><text x="1255" y="1358">3</text><text x="1255" y="1384">2</text><text x="1255" y="1409">1</text></g>
<g class="tk xl" font-size="17"><text x="1277" y="1424">2</text><text x="1305" y="1424">4</text><text x="1334" y="1424">6</text><text x="1362" y="1424">8</text><text x="1391" y="1424">10</text><text x="1419" y="1424">12</text><text x="1447" y="1424">14</text><text x="1475" y="1424">16</text></g>
<rect class="cb" x="1500" y="1207" width="10" height="200" fill="url(#specD4)"/>
<g class="tk"><text x="1514" y="1213">0.85</text><text x="1514" y="1262">0.79</text><text x="1514" y="1312">0.72</text><text x="1514" y="1361">0.66</text><text x="1514" y="1410">0.6</text></g>
</svg>
</body></html>
